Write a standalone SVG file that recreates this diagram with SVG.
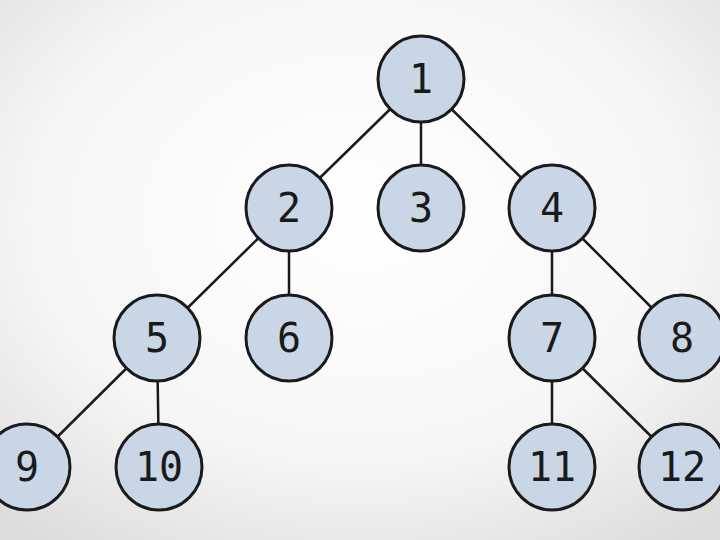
<svg xmlns="http://www.w3.org/2000/svg" width="720" height="540" viewBox="0 0 720 540">
<defs>
<radialGradient id="bg" cx="0.5" cy="0.4" r="0.75">
<stop offset="0" stop-color="#ffffff"/><stop offset="0.6" stop-color="#f6f6f6"/><stop offset="1" stop-color="#dcdcdc"/>
</radialGradient>
<style>
.n circle{fill:#c8d6e6;stroke:#1a1a1a;stroke-width:3}
.n text{font-family:"DejaVu Sans Mono",monospace;font-size:40px;fill:#1a1a1a;text-anchor:middle;dominant-baseline:central}
#edges line{stroke:#1a1a1a;stroke-width:2.5}
</style>
</defs>
<rect width="720" height="540" fill="url(#bg)"/>
<g id="edges">
<line x1="421" y1="79" x2="289" y2="208"/><line x1="421" y1="79" x2="421" y2="208"/><line x1="421" y1="79" x2="552" y2="208"/>
<line x1="289" y1="208" x2="157" y2="338"/><line x1="289" y1="208" x2="289" y2="338"/>
<line x1="552" y1="208" x2="552" y2="338"/><line x1="552" y1="208" x2="682" y2="338"/>
<line x1="157" y1="338" x2="27" y2="467"/><line x1="157" y1="338" x2="159" y2="467"/>
<line x1="552" y1="338" x2="552" y2="467"/><line x1="552" y1="338" x2="682" y2="467"/>
</g>
<g id="n1" class="n"><circle cx="421" cy="79" r="43"/><text x="421" y="79">1</text></g>
<g id="n2" class="n"><circle cx="289" cy="208" r="43"/><text x="289" y="208">2</text></g>
<g id="n3" class="n"><circle cx="421" cy="208" r="43"/><text x="421" y="208">3</text></g>
<g id="n4" class="n"><circle cx="552" cy="208" r="43"/><text x="552" y="208">4</text></g>
<g id="n5" class="n"><circle cx="157" cy="338" r="43"/><text x="157" y="338">5</text></g>
<g id="n6" class="n"><circle cx="289" cy="338" r="43"/><text x="289" y="338">6</text></g>
<g id="n7" class="n"><circle cx="552" cy="338" r="43"/><text x="552" y="338">7</text></g>
<g id="n8" class="n"><circle cx="682" cy="338" r="43"/><text x="682" y="338">8</text></g>
<g id="n9" class="n"><circle cx="27" cy="467" r="43"/><text x="27" y="467">9</text></g>
<g id="n10" class="n"><circle cx="159" cy="467" r="43"/><text x="159" y="467">10</text></g>
<g id="n11" class="n"><circle cx="552" cy="467" r="43"/><text x="552" y="467">11</text></g>
<g id="n12" class="n"><circle cx="682" cy="467" r="43"/><text x="682" y="467">12</text></g>
</svg>
